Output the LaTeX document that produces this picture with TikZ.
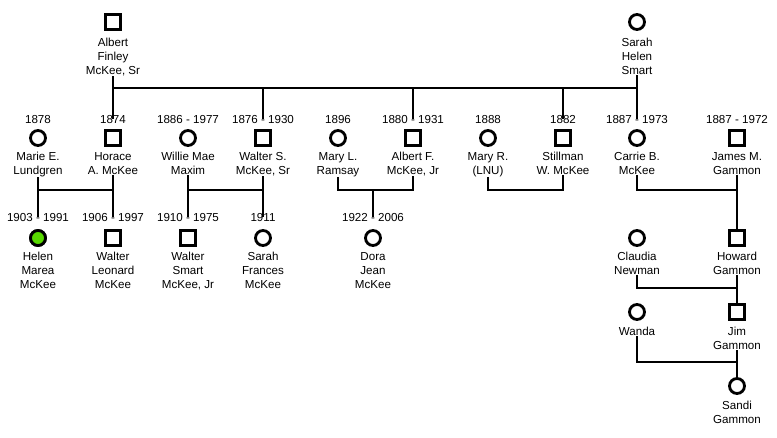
\documentclass[tikz,border=0pt]{standalone}
\usepackage{fontspec}
\setmainfont{Liberation Sans}
\begin{document}
\begin{tikzpicture}[x=0.02cm,y=-0.02cm,
  m/.style={draw,line width=1.6pt,minimum size=0.3cm,inner sep=0pt},
  sq/.style={m,rectangle},
  ci/.style={m,circle},
  lbl/.style={font=\fontsize{6.6}{7.9}\selectfont,align=center,inner sep=0pt,anchor=north},
  yr/.style={font=\fontsize{6.6}{7.9}\selectfont,inner sep=0pt},
  ln/.style={line width=1.6pt}]
\useasboundingbox (0,0) rectangle (777,438);
% generation 1
\node[sq] (alb) at (113,22) {};
\node[lbl] (albT) at (113,38) {Albert\\Finley\\McKee, Sr};
\node[ci] (sar) at (637,22) {};
\node[lbl] (sarT) at (637,38) {Sarah\\Helen\\Smart};
% generation 2
\foreach \n/\s/\x/\y/\t in {mar/ci/38/1878/{Marie E.\\Lundgren},hor/sq/113/1874/{Horace\\A. McKee},wil/ci/188/1886 - 1977/{Willie Mae\\Maxim},wsr/sq/263/1876 - 1930/{Walter S.\\McKee, Sr},mly/ci/338/1896/{Mary L.\\Ramsay},afj/sq/413/1880 - 1931/{Albert F.\\McKee, Jr},mry/ci/488/1888/{Mary R.\\(LNU)},sti/sq/563/1882/{Stillman\\W. McKee},car/ci/637/1887 - 1973/{Carrie B.\\McKee},jam/sq/737/1887 - 1972/{James M.\\Gammon}}{
  \node[\s] (\n) at (\x,138) {};
  \node[yr] (\n Y) at (\x,120) {\y};
  \node[lbl] (\n T) at (\x,152) {\t};
}
% generation 3
\foreach \n/\s/\x/\y/\t in {hel/ci/38/1903 - 1991/{Helen\\Marea\\McKee},wle/sq/113/1906 - 1997/{Walter\\Leonard\\McKee},wsj/sq/188/1910 - 1975/{Walter\\Smart\\McKee, Jr},sfr/ci/263/1911/{Sarah\\Frances\\McKee},dor/ci/373/1922 - 2006/{Dora\\Jean\\McKee}}{
  \node[\s] (\n) at (\x,238) {};
  \node[yr] (\n Y) at (\x,218) {\y};
  \node[lbl] (\n T) at (\x,252) {\t};
}
\node[ci,fill=green!60!yellow!85!black] at (hel) {};
\node[ci] (cla) at (637,238) {};
\node[lbl] (claT) at (637,252) {Claudia\\Newman};
\node[sq] (how) at (737,238) {};
\node[lbl] (howT) at (737,252) {Howard\\Gammon};
\node[ci] (wan) at (637,312) {};
\node[lbl] (wanT) at (637,327) {Wanda};
\node[sq] (jim) at (737,312) {};
\node[lbl] (jimT) at (737,327) {Jim\\Gammon};
\node[ci] (san) at (737,386) {};
\node[lbl] (sanT) at (737,401) {Sandi\\Gammon};
% connectors
\coordinate (g1) at (113,88);
\draw[ln] (albT.south) -- (g1) -- (sar |- g1) -- (sarT.south);
\foreach \n in {hor,wsr,afj,sti,car} \draw[ln] (\n |- g1) -- ([yshift=-2pt]\n Y.north);
\foreach \a/\b in {mar/hor,wil/wsr,mly/afj,mry/sti,car/jam}{
  \draw[ln] (\a T.south) -- (\a |- 0,190) -- (\b |- 0,190) -- (\b T.south);
}
\draw[ln] (marT.south) -- ([yshift=-2pt]helY.north -| hel);
\draw[ln] (horT.south) -- ([yshift=-2pt]wleY.north);
\draw[ln] (wilT.south) -- ([yshift=-2pt]wsjY.north -| wsj);
\draw[ln] (wsrT.south) -- ([yshift=-2pt]sfrY.north);
\draw[ln] (373,190) -- ([yshift=-2pt]dorY.north);
\draw[ln] (jamT.south) -- (how.north);
\draw[ln] (claT.south) -- (637,288) -- (737,288);
\draw[ln] (howT.south) -- (jim.north);
\draw[ln] (wanT.south) -- (637,362) -- (737,362);
\draw[ln] (jimT.south) -- (san.north);
\end{tikzpicture}
\end{document}
